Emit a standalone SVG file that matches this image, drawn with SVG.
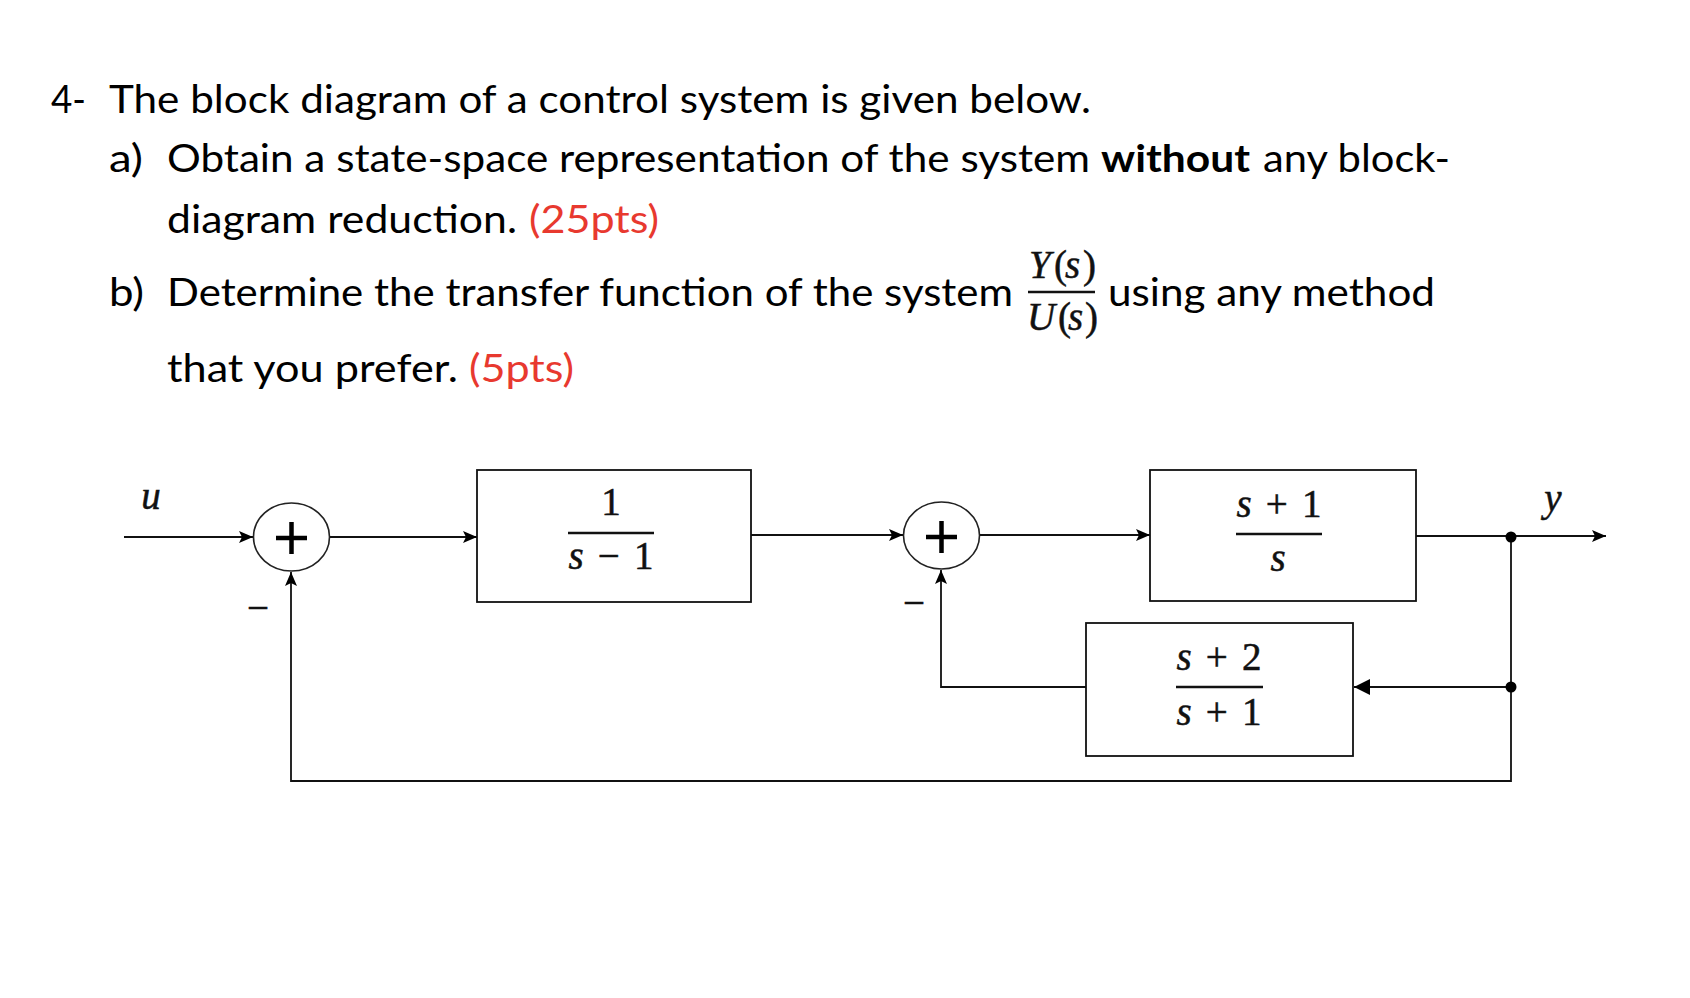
<svg xmlns="http://www.w3.org/2000/svg" width="1690" height="998" viewBox="0 0 1690 998">
<style>
.t{font-family:Lato,"Open Sans",sans-serif;font-size:38px;fill:#000}
.b{font-weight:bold}
.r{fill:#e8392f}
.m{font-family:"Liberation Serif","DejaVu Serif",serif;font-size:39px;fill:#111;stroke:#111;stroke-width:0.5}
.i{font-style:italic}
.box{fill:none;stroke:#111;stroke-width:1.8}
.bar{stroke:#111;stroke-width:2.4}
.sum{fill:#fff;stroke:#222;stroke-width:1.6}
.plus{stroke:#000;stroke-width:4.5;fill:none}
.c{fill:none;stroke:#111;stroke-width:1.8}
</style>
<defs>
<marker id="ah" markerUnits="userSpaceOnUse" markerWidth="14" markerHeight="12" refX="14" refY="6" orient="auto">
<path d="M0,0 L14,6 L0,12 L3,6 z" fill="#000"/>
</marker>
<marker id="ahL" markerUnits="userSpaceOnUse" markerWidth="16" markerHeight="16" refX="16" refY="8" orient="auto">
<path d="M0,0 L16,8 L0,16 z" fill="#000"/>
</marker>
</defs>
<rect width="1690" height="998" fill="#fff"/>

<g id="question">
<text class="t" x="51" y="113" textLength="35" lengthAdjust="spacingAndGlyphs">4-</text>
<text class="t" x="109" y="113" textLength="982" lengthAdjust="spacingAndGlyphs">The block diagram of a control system is given below.</text>
<text class="t" x="109" y="172" textLength="34" lengthAdjust="spacingAndGlyphs">a)</text>
<text class="t" x="167" y="172" textLength="923" lengthAdjust="spacingAndGlyphs">Obtain a state-space representation of the system</text>
<text class="t b" x="1101" y="172" textLength="149" lengthAdjust="spacingAndGlyphs">without</text>
<text class="t" x="1263" y="172" textLength="187" lengthAdjust="spacingAndGlyphs">any block-</text>
<text class="t" x="167" y="233" textLength="350" lengthAdjust="spacingAndGlyphs">diagram reduction.</text>
<text class="t r" x="529" y="233" textLength="130" lengthAdjust="spacingAndGlyphs">(25pts)</text>
<text class="t" x="109" y="306" textLength="35" lengthAdjust="spacingAndGlyphs">b)</text>
<text class="t" x="167" y="306" textLength="846" lengthAdjust="spacingAndGlyphs">Determine the transfer function of the system</text>
<g id="frac-YU">
<text class="m" y="278" font-size="26" stroke-width="0.3"><tspan class="i" x="1029">Y</tspan><tspan x="1054">(</tspan><tspan class="i" x="1065">s</tspan><tspan x="1083">)</tspan></text>
<line class="bar" x1="1028" y1="292" x2="1095" y2="292"/>
<text class="m" y="330" font-size="26" stroke-width="0.3"><tspan class="i" x="1027">U</tspan><tspan x="1058">(</tspan><tspan class="i" x="1068">s</tspan><tspan x="1085">)</tspan></text>
</g>
<text class="t" x="1108" y="306" textLength="327" lengthAdjust="spacingAndGlyphs">using any method</text>
<text class="t" x="167" y="382" textLength="291" lengthAdjust="spacingAndGlyphs">that you prefer.</text>
<text class="t r" x="469" y="382" textLength="105" lengthAdjust="spacingAndGlyphs">(5pts)</text>
</g>

<g id="connectors">
<line class="c" x1="124" y1="537" x2="253" y2="537" stroke-width="2.6" marker-end="url(#ah)"/>
<line class="c" x1="330" y1="537" x2="477" y2="537" stroke="#666" stroke-width="2.6" marker-end="url(#ah)"/>
<line class="c" x1="751" y1="535" x2="903" y2="535" marker-end="url(#ah)"/>
<line class="c" x1="980" y1="535" x2="1150" y2="535" marker-end="url(#ah)"/>
<line class="c" x1="1416" y1="536" x2="1606" y2="536" marker-end="url(#ah)"/>
<path class="c" d="M1511,536 V781 H291 V572" stroke-width="2.4" marker-end="url(#ah)"/>
<line class="c" x1="1511" y1="687" x2="1354" y2="687" marker-end="url(#ahL)"/>
<path class="c" d="M1086,687 H941 V570" marker-end="url(#ah)"/>
<circle cx="1511" cy="537" r="5.5" fill="#000"/>
<circle cx="1511" cy="687" r="5.5" fill="#000"/>
</g>

<g id="label-u"><text class="m i" x="151" y="509" text-anchor="middle" font-size="42" fill="#333" stroke="none">u</text></g>
<g id="label-y"><text class="m i" x="1553" y="511" text-anchor="middle" font-size="42" fill="#555" stroke="none">y</text></g>

<g id="sum1">
<ellipse class="sum" cx="291.5" cy="537" rx="38" ry="34"/>
<path class="plus" d="M276,538 H307 M291.5,522 V554"/>
<text class="m" x="258" y="621" text-anchor="middle" font-size="36">−</text>
</g>

<g id="box1">
<rect class="box" x="477" y="470" width="274" height="132"/>
<text class="m" x="611" y="515" text-anchor="middle">1</text>
<line class="bar" x1="568" y1="533" x2="654" y2="533"/>
<text class="m" x="611" y="569" text-anchor="middle" textLength="85"><tspan class="i">s</tspan> − 1</text>
</g>

<g id="sum2">
<ellipse class="sum" cx="941.5" cy="535.5" rx="38" ry="33.5"/>
<path class="plus" d="M926,537 H957 M941.5,521 V553"/>
<text class="m" x="914" y="616" text-anchor="middle" font-size="36">−</text>
</g>

<g id="box2">
<rect class="box" x="1150" y="470" width="266" height="131"/>
<text class="m" x="1279" y="517" text-anchor="middle" textLength="85"><tspan class="i">s</tspan> + 1</text>
<line class="bar" x1="1236" y1="534" x2="1322" y2="534"/>
<text class="m i" x="1278" y="571" text-anchor="middle">s</text>
</g>

<g id="box3">
<rect class="box" x="1086" y="623" width="267" height="133" stroke-width="3"/>
<text class="m" x="1219" y="670" text-anchor="middle" textLength="85"><tspan class="i">s</tspan> + 2</text>
<line class="bar" x1="1176" y1="687" x2="1263" y2="687"/>
<text class="m" x="1219" y="725" text-anchor="middle" textLength="85"><tspan class="i">s</tspan> + 1</text>
</g>
</svg>
